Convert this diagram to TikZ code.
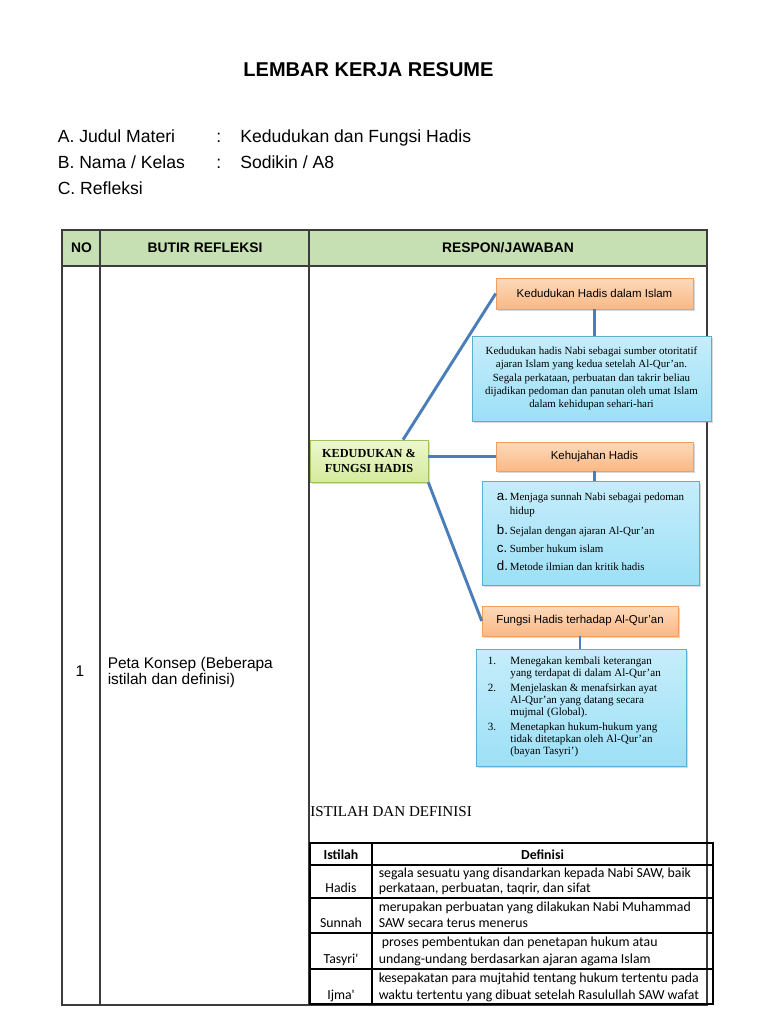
\documentclass[tikz,border=0pt]{standalone}
\usepackage{fontspec}
\setmainfont{Liberation Serif}
\setsansfont{Liberation Sans}
\newfontfamily\tabelfont{Carlito}
\usetikzlibrary{shadows}
\definecolor{hdrgreen}{RGB}{198,224,180}
\definecolor{gridgray}{RGB}{60,60,60}
\definecolor{linkblue}{RGB}{74,126,187}
\definecolor{orangetop}{RGB}{253,218,188}
\definecolor{orangebot}{RGB}{250,184,132}
\definecolor{orangeline}{RGB}{246,158,92}
\definecolor{bluetop}{RGB}{198,237,250}
\definecolor{bluebot}{RGB}{156,224,247}
\definecolor{blueline}{RGB}{86,178,208}
\definecolor{greentop}{RGB}{238,247,204}
\definecolor{greenbot}{RGB}{212,235,158}
\definecolor{greenline}{RGB}{158,196,94}

\begin{document}
\begin{tikzpicture}[x=0.75pt,y=-0.75pt,
        grid/.style={gridgray,line width=1pt},
        tabline/.style={black,line width=0.9pt},
        link/.style={linkblue,line width=2.2pt},
        box/.style={inner sep=2pt,
            drop shadow={shadow xshift=1.2pt,shadow yshift=-1.2pt,opacity=0.3}},
        orangebox/.style={box,draw=orangeline,top color=orangetop,
            bottom color=orangebot,font=\sffamily\fontsize{8.6}{10}\selectfont},
        bluebox/.style={box,draw=blueline,top color=bluetop,bottom color=bluebot},
        greenbox/.style={box,draw=greenline,top color=greentop,bottom color=greenbot,
            align=center,font=\bfseries\fontsize{9.2}{11.5}\selectfont},
        info/.style={anchor=base west,inner xsep=0pt,font=\sffamily\fontsize{13.2}{15}\selectfont},
        hdr/.style={anchor=base,font=\sffamily\bfseries\fontsize{10.4}{12}\selectfont},
        cell/.style={anchor=base west,inner xsep=0pt,font=\tabelfont\fontsize{10.35}{12}\selectfont},
        term/.style={anchor=base,font=\tabelfont\fontsize{10.35}{12}\selectfont}]
    \useasboundingbox (0,0) rectangle (768,1024);

    % judul dan identitas
    \node[anchor=base,font=\sffamily\bfseries\fontsize{15}{17}\selectfont] (judul)
        at (368.5,77) {LEMBAR KERJA RESUME};
    \node[info] (materi) at (57.5,142.5) {A. Judul Materi};
    \node[info] (nama) at (57.5,168.5) {B. Nama / Kelas};
    \node[info] (refleksi) at (57.5,194) {C. Refleksi};
    \node[info] (titik1) at (216,142.5) {:};
    \node[info] (titik2) at (216,168.5) {:};
    \node[info] (isimateri) at (240,142.5) {Kedudukan dan Fungsi Hadis};
    \node[info] (isinama) at (240,168.5) {Sodikin / A8};

    % tabel refleksi
    \fill[hdrgreen] (62,230) rectangle (707,266);
    \draw[grid] (62,230) rectangle (707,1005);
    \draw[grid] (62,266) -- (707,266);
    \draw[grid] (100,230) -- (100,1005);
    \draw[grid] (309,230) -- (309,1005);
    \node[hdr] (no) at (81.5,252.7) {NO};
    \node[hdr] (butir) at (205,252.7) {BUTIR REFLEKSI};
    \node[hdr] (respon) at (508,252.7) {RESPON/JAWABAN};
    \node[anchor=base,font=\sffamily\fontsize{11.6}{14}\selectfont] (nomor) at (80,676) {1};
    \node[info,font=\sffamily\fontsize{11.6}{14}\selectfont] (peta1) at (107.5,668.3) {Peta Konsep (Beberapa};
    \node[info,font=\sffamily\fontsize{11.6}{14}\selectfont] (peta2) at (107.5,684.3) {istilah dan definisi)};

    % peta konsep
    \node[greenbox,minimum width=88.5pt,minimum height=31.5pt] (pusat)
        at (369,461) {KEDUDUKAN \&\\FUNGSI HADIS};
    \node[orangebox,minimum width=147.75pt,minimum height=23.25pt] (kedudukan)
        at (594.5,293.5) {Kedudukan Hadis dalam Islam};
    \node[bluebox,minimum width=179.25pt,minimum height=63.75pt,align=center,
        font=\fontsize{8.2}{10}\selectfont] (kedudukanisi) at (591.5,378.5)
        {Kedudukan hadis Nabi sebagai sumber otoritatif\\
         ajaran Islam yang kedua setelah Al-Qur’an.\\
         Segala perkataan, perbuatan dan takrir beliau\\
         dijadikan pedoman dan panutan oleh umat Islam\\
         dalam kehidupan sehari-hari};
    \node[orangebox,minimum width=147.75pt,minimum height=21.75pt] (kehujahan)
        at (594.5,456.5) {Kehujahan Hadis};
    \node[bluebox,minimum width=162.75pt,minimum height=78pt,
        font=\fontsize{8.2}{10.5}\selectfont] (kehujahanisi) at (590.5,533)
        {\begin{tabular}{@{}p{9.75pt}@{}l@{}}
         {\sffamily\fontsize{10}{10}\selectfont a.} & Menjaga sunnah Nabi sebagai pedoman\\
         & hidup\\[4pt]
         {\sffamily\fontsize{10}{10}\selectfont b.} & Sejalan dengan ajaran Al-Qur’an\\[3pt]
         {\sffamily\fontsize{10}{10}\selectfont c.} & Sumber hukum islam\\[3.5pt]
         {\sffamily\fontsize{10}{10}\selectfont d.} & Metode ilmian dan kritik hadis
         \end{tabular}};
    \node[orangebox,minimum width=147pt,minimum height=22.5pt] (fungsi)
        at (580,621) {Fungsi Hadis terhadap Al-Qur’an};
    \node[bluebox,minimum width=157.5pt,minimum height=87.75pt,
        font=\fontsize{8.3}{9}\selectfont] (fungsiisi) at (581,707.5)
        {\begin{tabular}{@{}p{17pt}@{}l@{}}
         1. & Menegakan kembali keterangan\\
         & yang terdapat di dalam Al-Qur’an\\[2.3pt]
         2. & Menjelaskan \& menafsirkan ayat\\
         & Al-Qur’an yang datang secara\\
         & mujmal (Global).\\[2.3pt]
         3. & Menetapkan hukum-hukum yang\\
         & tidak ditetapkan oleh Al-Qur’an\\
         & (bayan Tasyri’)
         \end{tabular}\hspace*{10pt}};

    \draw[link] (pusat.32) -- (kedudukan.west);
    \draw[link] (pusat.east |- kehujahan.west) -- (kehujahan.west);
    \draw[link] (pusat.south east) -- (fungsi.west);
    \draw[link] (kedudukan.south) -- (kedudukan.south |- kedudukanisi.north);
    \draw[link] (kehujahan.south) -- (kehujahan.south |- kehujahanisi.north);
    \draw[link] (fungsi.south) -- (fungsi.south |- fungsiisi.north);

    % istilah dan definisi
    \node[anchor=base west,inner xsep=0pt,font=\fontsize{11.3}{13}\selectfont] (istilahjudul)
        at (310,816) {ISTILAH DAN DEFINISI};
    \draw[tabline] (310,843) rectangle (713,1004);
    \foreach \y in {865,898,933,969}
        \draw[tabline] (310,\y) -- (713,\y);
    \draw[tabline] (372,843) -- (372,1004);
    \node[term,font=\tabelfont\bfseries\fontsize{10.35}{12}\selectfont] (istilah) at (341,859) {Istilah};
    \node[term,font=\tabelfont\bfseries\fontsize{10.35}{12}\selectfont] (definisi) at (542.5,859) {Definisi};
    \node[term] (hadis) at (341,892) {Hadis};
    \node[cell] (hadis1) at (378.5,877) {segala sesuatu yang disandarkan kepada Nabi SAW, baik};
    \node[cell] (hadis2) at (378.5,892) {perkataan, perbuatan, taqrir, dan sifat};
    \node[term] (sunnah) at (341,927) {Sunnah};
    \node[cell] (sunnah1) at (378.5,911) {merupakan perbuatan yang dilakukan Nabi Muhammad};
    \node[cell] (sunnah2) at (378.5,927) {SAW secara terus menerus};
    \node[term] (tasyri) at (341,963) {Tasyri'};
    \node[cell] (tasyri1) at (378.5,946) {\ proses pembentukan dan penetapan hukum atau};
    \node[cell] (tasyri2) at (378.5,963) {undang-undang berdasarkan ajaran agama Islam};
    \node[term] (ijma) at (341,999) {Ijma'};
    \node[cell] (ijma1) at (378.5,982) {kesepakatan para mujtahid tentang hukum tertentu pada};
    \node[cell] (ijma2) at (378.5,999) {waktu tertentu yang dibuat setelah Rasulullah SAW wafat};
\end{tikzpicture}
\end{document}
